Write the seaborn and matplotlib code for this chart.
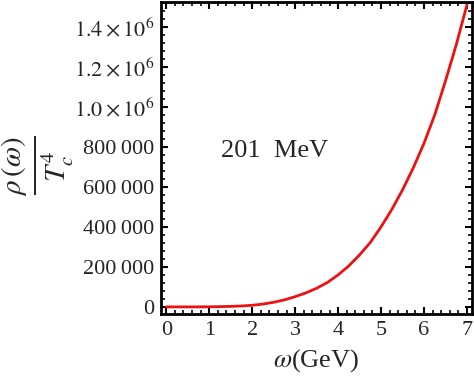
import numpy as np
import pandas as pd
import seaborn as sns
import matplotlib
matplotlib.use("Agg")
import matplotlib.pyplot as plt
from matplotlib.ticker import FixedLocator, MultipleLocator

# values
omega = [0, 0.25, 0.5, 0.75, 1, 1.25, 1.5, 1.75, 2, 2.25, 2.5, 2.75, 3, 3.25, 3.5,
         3.75, 4, 4.25, 4.5, 4.75, 5, 5.25, 5.5, 5.75, 6, 6.25, 6.5, 6.75, 7]
rho = [0, 0, 0, 200, 500, 1200, 2500, 4500, 8000, 14000, 23000, 35000, 51000, 70000, 93000,
       122000, 160000, 205000, 260000, 322000, 400000, 487000, 585000, 695000, 818000,
       960000, 1130000, 1310000, 1510000]
yticks = [0, 200000, 400000, 600000, 800000, 1000000, 1200000, 1400000]
ylabels = ["0", "200\u2009000", "400\u2009000", "600\u2009000", "800\u2009000",
           r"$1.0\times10^{6}$", r"$1.2\times10^{6}$", r"$1.4\times10^{6}$"]
xticks = [0, 1, 2, 3, 4, 5, 6, 7]
label_text = "201  MeV"

df = pd.DataFrame({"omega": omega, "rho": rho})

sns.set_style("ticks")
plt.rcParams["font.family"] = ["Liberation Serif", "DejaVu Serif"]
plt.rcParams["mathtext.fontset"] = "stix"

fig = plt.figure(figsize=(4.74, 3.8), dpi=100)
ax = fig.add_axes([0.340, 0.174, 0.656, 0.821])

sns.lineplot(data=df, x="omega", y="rho", color="#ee1111", lw=2, ax=ax)

ax.set_xlim(-0.12, 7.12)
ax.set_ylim(-35000, 1525000)
ax.xaxis.set_major_locator(FixedLocator(xticks))
ax.xaxis.set_minor_locator(MultipleLocator(0.2))
ax.yaxis.set_major_locator(FixedLocator(yticks))
ax.yaxis.set_minor_locator(MultipleLocator(40000))
ax.set_yticklabels(ylabels)
ax.set_xticklabels([str(t) for t in xticks])

ax.tick_params(which="both", direction="in", top=True, right=True, labelsize=16, color="black")
ax.tick_params(which="major", length=5, width=1.5, pad=5)
ax.tick_params(which="minor", length=3, width=1.2)
for s in ax.spines.values():
    s.set_linewidth(2)
    s.set_color("black")

ax.text(2.53, 778000, label_text, fontsize=19, ha="center", va="center")
ax.set_xlabel(r"$\omega$(GeV)", fontsize=19, labelpad=5)
ax.set_ylabel("")
fig.text(0.082, 0.565, r"$\frac{\rho\,(\omega)}{T_c^4}$", fontsize=30,
         rotation=90, ha="center", va="center")

fig.savefig("out.png", dpi=100)
